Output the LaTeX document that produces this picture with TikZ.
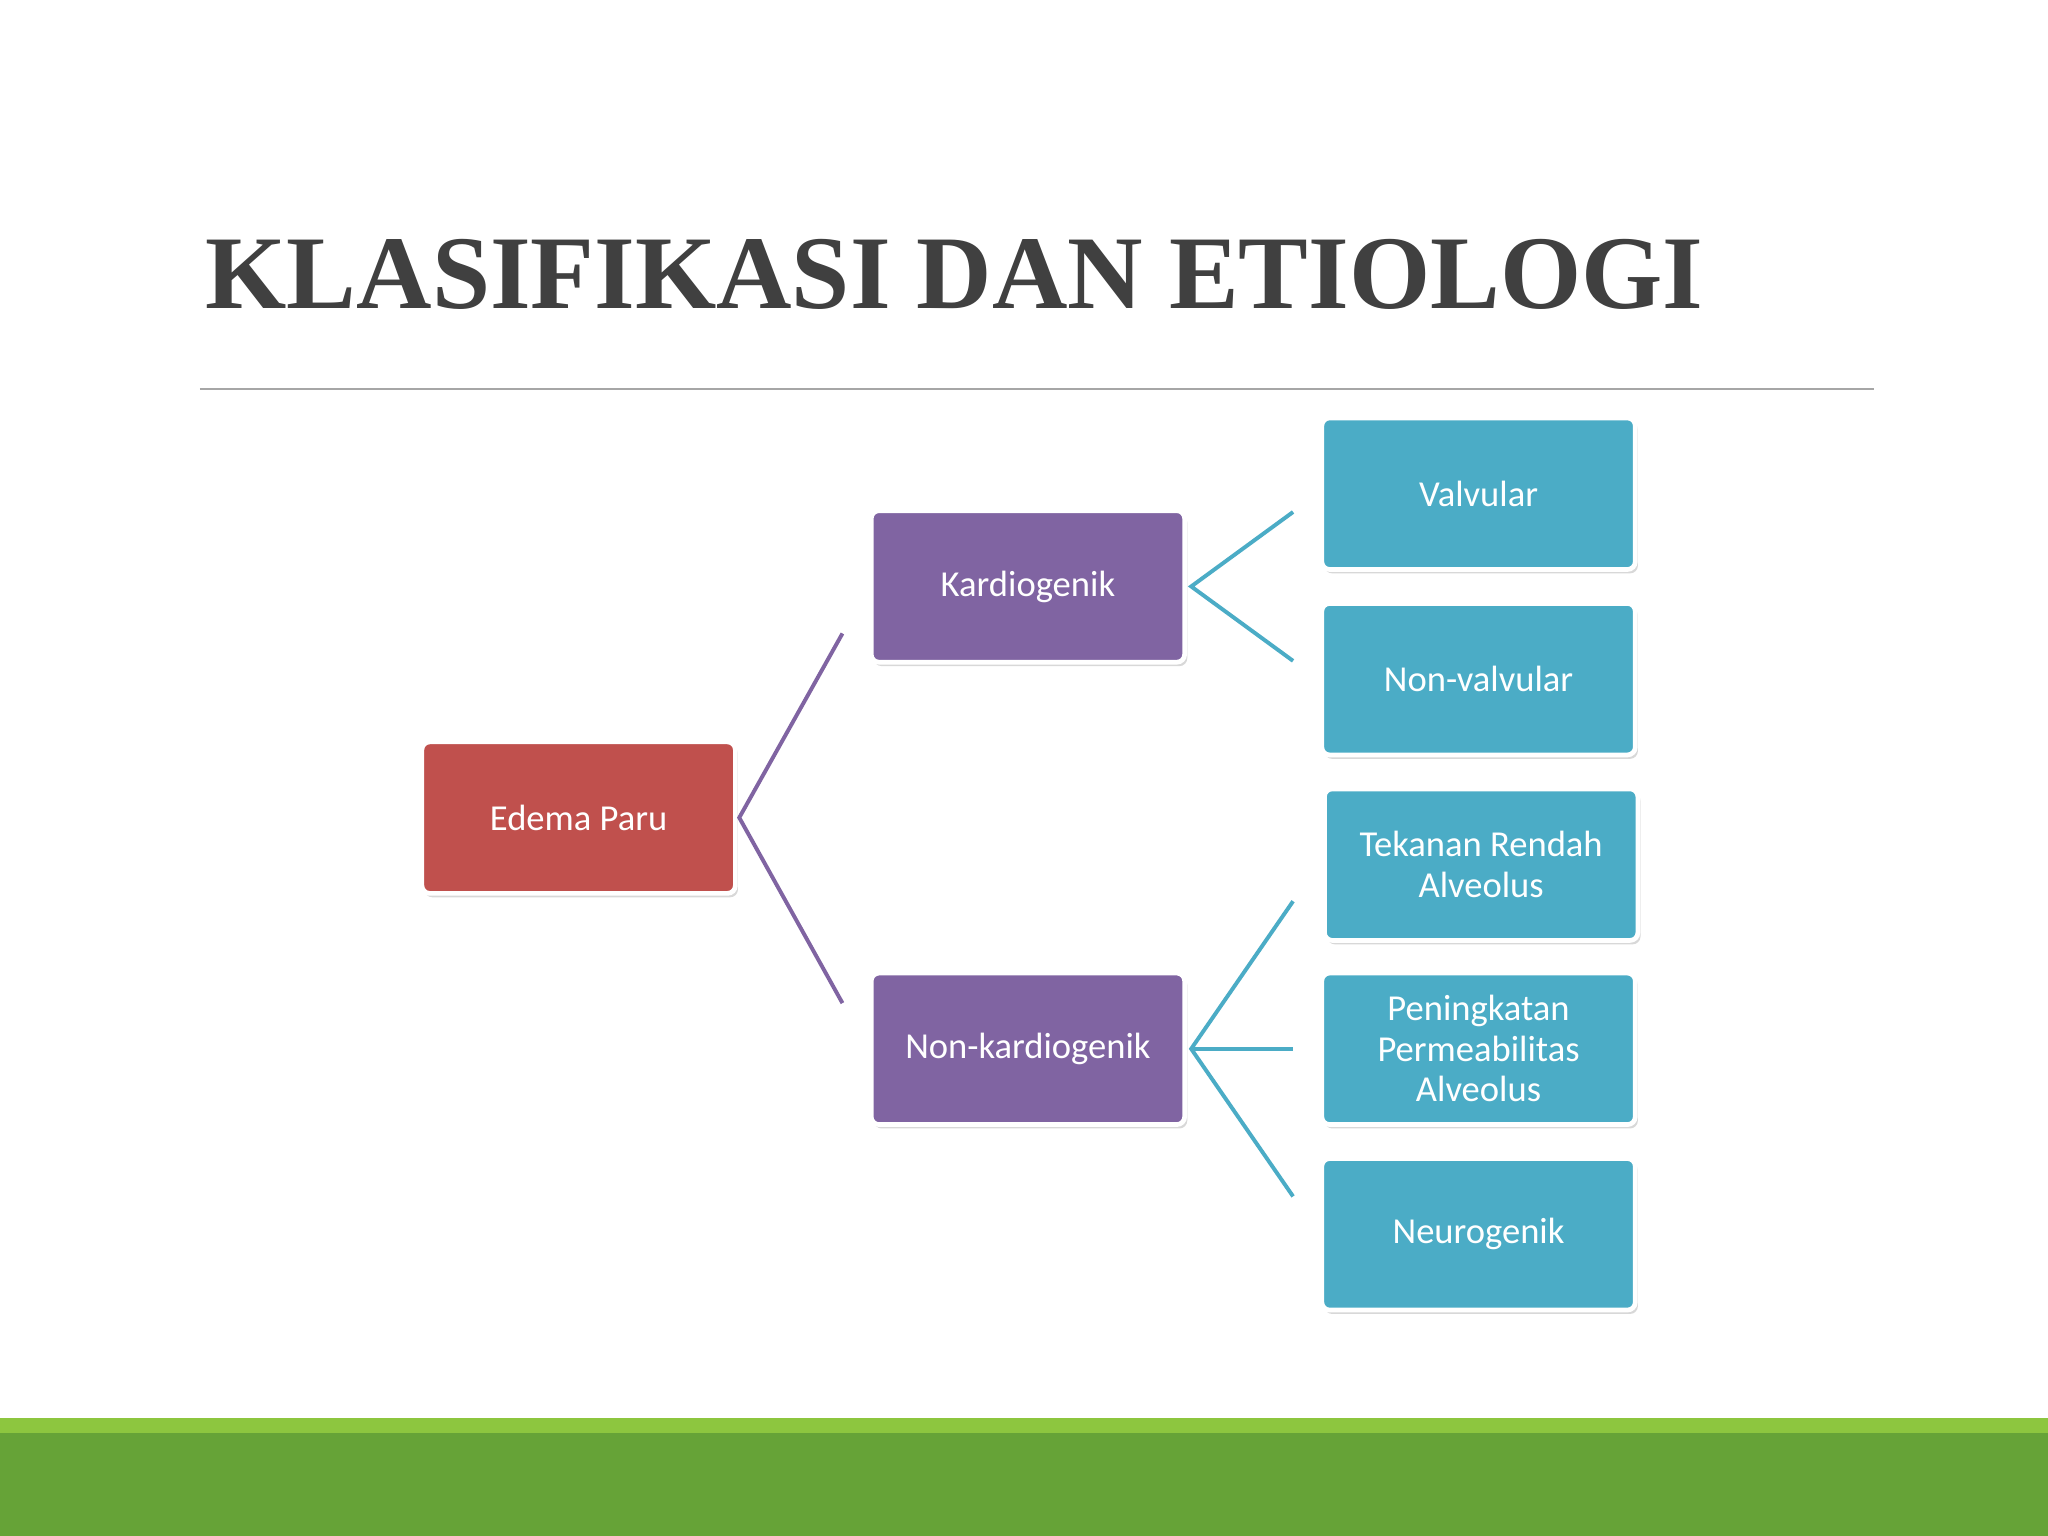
\documentclass[tikz,border=0pt]{standalone}
\usepackage{fontspec}
\setmainfont{Carlito}
\newfontfamily\titlefont{Liberation Serif}
\usetikzlibrary{shadows}
\definecolor{cred}{HTML}{C0504D}
\definecolor{cpur}{HTML}{8064A2}
\definecolor{cteal}{HTML}{4BACC6}
\definecolor{gtop}{HTML}{8DC63F}
\definecolor{gbot}{HTML}{66A337}
\definecolor{ttl}{HTML}{404040}
\tikzset{
 boxst/.style={rounded corners=3pt, draw=white, line width=1.8pt, minimum width=120pt, minimum height=58pt, text=white, align=center, font=\fontsize{14}{15.5}\selectfont, drop shadow={opacity=0.3, shadow xshift=1pt, shadow yshift=-1.5pt}},
 redbox/.style={boxst, fill=cred},
 purbox/.style={boxst, fill=cpur},
 tealbox/.style={boxst, fill=cteal},
 purline/.style={draw=cpur, line width=1.5pt},
 tealline/.style={draw=cteal, line width=1.5pt}
}
\begin{document}
\begin{tikzpicture}[x=0.5pt,y=-0.5pt]
\useasboundingbox (0,0) rectangle (1568,1176);
\fill[white] (0,0) rectangle (1568,1176);
\fill[gtop] (0,1086) rectangle (1568,1097);
\fill[gbot] (0,1097) rectangle (1568,1176);
\node[anchor=west, text=ttl, font=\titlefont\bfseries\fontsize{40}{44}\selectfont, inner sep=0] (title) at (157,210) {KLASIFIKASI DAN ETIOLOGI};
\draw[gray!70, line width=0.6pt] (153,298) -- (1435,298);
\node[redbox] (ep) at (443,626) {Edema Paru};
\node[purbox] (k) at (787,449) {Kardiogenik};
\node[purbox] (nk) at (787,803) {Non-kardiogenik};
\node[tealbox] (v) at (1132,378) {Valvular};
\node[tealbox] (nv) at (1132,520) {Non-valvular};
\node[tealbox] (tr) at (1134,662) {Tekanan Rendah\\Alveolus};
\node[tealbox] (pp) at (1132,803) {Peningkatan\\Permeabilitas\\Alveolus};
\node[tealbox] (ng) at (1132,945) {Neurogenik};
\coordinate (a0) at (566,626);
\coordinate (a1) at (645,485);
\coordinate (a2) at (645,768);
\coordinate (b0) at (912,449);
\coordinate (b1) at (990,392);
\coordinate (b2) at (990,506);
\coordinate (c0) at (912,803);
\coordinate (c1) at (990,690);
\coordinate (c2) at (990,803);
\coordinate (c3) at (990,916);
\draw[purline] (a1) -- (a0) -- (a2);
\draw[tealline] (b1) -- (b0) -- (b2);
\draw[tealline] (c1) -- (c0) -- (c3);
\draw[tealline] (c0) -- (c2);
\end{tikzpicture}
\end{document}
